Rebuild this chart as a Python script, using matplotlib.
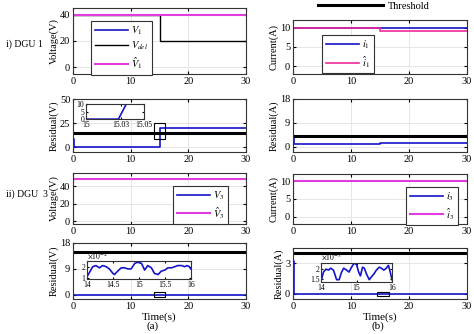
import matplotlib
matplotlib.use("Agg")
import matplotlib.pyplot as plt
from matplotlib.patches import Rectangle

plt.rcParams['font.family'] = ['Liberation Serif', 'DejaVu Serif']
plt.rcParams['mathtext.fontset'] = 'stix'
plt.rcParams['font.size'] = 7

BLUE = '#1414c8'
MAG = '#e03ce0'
PINK = '#ec2a98'

# ---------------- data ----------------
# DGU1 voltage
t_v1 = [0, 0, 30]
v1 = [0, 40, 40]
t_vdel = [0, 15, 15, 30]
vdel = [40, 40, 20, 20]
t_v1hat = [0, 0, 30]
v1hat = [0, 40, 40]
# DGU1 current
t_i1 = [0, 0, 30]
i1 = [0, 10, 10]
t_i1hat = [0, 0, 15, 15, 30]
i1hat = [0, 10, 10, 9.2, 9.2]
# DGU1 residuals
t_r1v = [0, 0, 0.12, 0.12, 15.03, 15.03, 30]
r1v = [0, 8, 8, 0, 0, 20, 20]
thr_v = 15
t_r1i = [0, 0, 0.15, 0.15, 15, 15, 30]
r1i = [0, 3.4, 3.4, 1.0, 1.0, 1.5, 1.5]
thr_i = 4
# inset DGU1 voltage residual
t_ins1 = [15.0, 15.028, 15.036]
r_ins1 = [0, 0, 12]
# DGU3 voltage / current
t_v3 = [0, 0, 30]
v3 = [0, 48, 48]
v3hat = [0, 48, 48]
t_i3 = [0, 0, 30]
i3 = [0, 10, 10]
i3hat = [0, 10, 10]
# DGU3 residuals
t_r3v = [0, 30]
r3v = [0.0002, 0.0002]
t_r3i = [0, 0, 0.1, 0.1, 30]
r3i = [0, 3.2, 3.2, 0.002, 0.002]
# insets DGU3 (zoomed residual noise, in units of 1e-4 V and 1e-3 A)
t_ins3v = [14.0, 14.11, 14.17, 14.24, 14.30, 14.37, 14.43, 14.50, 14.53, 14.59, 14.66,
           14.72, 14.79, 14.85, 14.92, 14.98, 15.05, 15.11, 15.17, 15.24, 15.30, 15.37,
           15.43, 15.50, 15.56, 15.63, 15.69, 15.75, 15.82, 15.88, 15.93, 15.97, 16.0]
r_ins3v = [1.1, 2.0, 2.1, 1.9, 2.1, 2.0, 1.8, 1.4, 1.3, 1.6, 1.9,
           1.9, 1.8, 1.8, 2.3, 2.4, 2.3, 1.7, 2.1, 1.9, 1.4, 1.3,
           1.6, 1.7, 1.9, 1.9, 2.0, 2.1, 2.1, 2.0, 2.1, 2.0, 1.8]
t_ins3i = [14.02, 14.07, 14.14, 14.21, 14.27, 14.35, 14.44, 14.51, 14.58, 14.64, 14.72,
           14.79, 14.86, 14.93, 15.0, 15.06, 15.11, 15.17, 15.22, 15.28, 15.36, 15.42,
           15.49, 15.56, 15.64, 15.70, 15.77, 15.84, 15.90, 15.95, 16.0]
r_ins3i = [1.5, 1.85, 2.0, 1.95, 2.05, 1.95, 1.45, 1.45, 1.85, 2.05, 1.95,
           1.85, 2.1, 2.3, 2.25, 1.85, 1.65, 2.1, 2.05, 1.75, 1.45, 1.6,
           1.75, 1.95, 2.1, 2.05, 1.95, 2.05, 2.2, 1.85, 1.45]

xticks = [0, 10, 20, 30]

fig = plt.figure(figsize=(4.74, 3.34), dpi=100)
W, H = 474.0, 334.0


def mk(x0, top, x1, bot):
    return fig.add_axes([x0 / W, 1 - bot / H, (x1 - x0) / W, (bot - top) / H])


def style(ax, ylim, yticks, ylabel):
    ax.set_xlim(0, 30)
    ax.set_ylim(*ylim)
    ax.set_xticks(xticks)
    ax.set_yticks(yticks)
    ax.grid(True, color='#e2e2e2', lw=0.6)
    ax.set_axisbelow(True)
    ax.tick_params(direction='in', length=2, top=True, right=True, labelsize=7.5, pad=2)
    for s in ax.spines.values():
        s.set_linewidth(0.8)
        s.set_color('#333333')
    ax.set_ylabel(ylabel, fontsize=7.5, labelpad=1)


def inset_style(ax):
    ax.tick_params(direction='in', length=1.5, labelsize=5.5, pad=1.2, top=True, right=True)
    for s in ax.spines.values():
        s.set_linewidth(0.8)
        s.set_color('#333333')


def leg(ax, anchor):
    lg = ax.legend(loc='upper left', bbox_to_anchor=anchor, fontsize=7.5, fancybox=False,
                   edgecolor='#333333', framealpha=1, handlelength=3.2, borderpad=0.35,
                   labelspacing=0.25, handletextpad=0.3, borderaxespad=0)
    lg.get_frame().set_linewidth(0.8)
    return lg


LX0, LX1 = 73, 246
RX0, RX1 = 293, 467

# Row 1
a1 = mk(LX0, 8, LX1, 74)
a1.plot(t_v1, v1, color=BLUE, lw=1.2, label='$V_1$')
a1.plot(t_vdel, vdel, color='black', lw=1.0, label='$V_{del}$')
a1.plot(t_v1hat, v1hat, color=MAG, lw=1.5, label=r'$\hat{V}_1$')
style(a1, (-5, 45), [0, 20, 40], 'Voltage(V)')
leg(a1, (0.104, 0.80))

b1 = mk(RX0, 20, RX1, 74)
b1.plot(t_i1, i1, color=BLUE, lw=1.2, label='$i_1$')
b1.plot(t_i1hat, i1hat, color=PINK, lw=1.2, label=r'$\hat{i}_1$')
style(b1, (-2, 12), [0, 5, 10], 'Current(A)')
leg(b1, (0.167, 0.72))

# Row 2
a2 = mk(LX0, 99, LX1, 152)
a2.plot(t_r1v, r1v, color=BLUE, lw=1.2)
thr_line = a2.axhline(thr_v, color='black', lw=2.2, label='Threshold')
style(a2, (-5, 50), [0, 25, 50], 'Residual(V)')
a2.add_patch(Rectangle((14, 8), 2, 17, fill=False, ec='black', lw=0.8, zorder=5))
ia2 = a2.inset_axes([0.075, 0.62, 0.335, 0.28])
ia2.plot(t_ins1, r_ins1, color=BLUE, lw=1.2)
ia2.set_xlim(15, 15.05)
ia2.set_ylim(0, 10)
ia2.set_xticks([15, 15.03, 15.05])
ia2.set_xticklabels(['15', '15.03', '15.05'])
ia2.set_yticks([0, 5, 10])
inset_style(ia2)

b2 = mk(RX0, 99, RX1, 152)
b2.plot(t_r1i, r1i, color=BLUE, lw=1.2)
b2.axhline(thr_i, color='black', lw=2.2)
style(b2, (-2, 18), [0, 9, 18], 'Residual(A)')

# Row 3
a3 = mk(LX0, 173, LX1, 224)
a3.plot(t_v3, v3, color=BLUE, lw=1.2, label='$V_3$')
a3.plot(t_v3, v3hat, color=MAG, lw=1.5, label=r'$\hat{V}_3$')
style(a3, (-3, 55), [0, 20, 40], 'Voltage(V)')
leg(a3, (0.578, 0.745))

b3 = mk(RX0, 174, RX1, 224)
b3.plot(t_i3, i3, color=BLUE, lw=1.2, label='$i_3$')
b3.plot(t_i3, i3hat, color=MAG, lw=1.5, label=r'$\hat{i}_3$')
style(b3, (-2, 12), [0, 5, 10], 'Current(A)')
leg(b3, (0.649, 0.74))

# Row 4
a4 = mk(LX0, 243, LX1, 299)
a4.plot(t_r3v, r3v, color=BLUE, lw=1.2)
a4.axhline(thr_v, color='black', lw=2.2)
style(a4, (-1.5, 18), [0, 9, 18], 'Residual(V)')
a4.add_patch(Rectangle((14, -0.7), 2, 1.7, fill=False, ec='black', lw=0.8, zorder=5))
a4.set_xlabel('Time(s)', fontsize=8, labelpad=1)
ia4 = a4.inset_axes([0.081, 0.357, 0.60, 0.32])
ia4.plot(t_ins3v, r_ins3v, color=BLUE, lw=1.2)
ia4.set_xlim(14, 16)
ia4.set_ylim(0.9, 2.5)
ia4.set_xticks([14, 14.5, 15, 15.5, 16])
ia4.set_xticklabels(['14', '14.5', '15', '15.5', '16'])
ia4.set_yticks([1, 2])
ia4.set_yticklabels(['1', '2'])
ia4.text(0.0, 1.03, r'$\times10^{-4}$', transform=ia4.transAxes, fontsize=5.5,
         ha='left', va='bottom')
inset_style(ia4)

b4 = mk(RX0, 248, RX1, 299)
b4.plot(t_r3i, r3i, color=BLUE, lw=1.2)
b4.axhline(thr_i, color='black', lw=2.2)
style(b4, (-0.5, 4.5), [0, 3], 'Residual(A)')
b4.add_patch(Rectangle((14.5, -0.25), 2, 0.4, fill=False, ec='black', lw=0.8, zorder=5))
b4.set_xlabel('Time(s)', fontsize=8, labelpad=1)
ib4 = b4.inset_axes([0.161, 0.333, 0.408, 0.373])
ib4.plot(t_ins3i, r_ins3i, color=BLUE, lw=1.2)
ib4.set_xlim(14, 16)
ib4.set_ylim(1.33, 2.32)
ib4.set_xticks([14, 15, 16])
ib4.set_xticklabels(['14', '15', '16'])
ib4.set_yticks([1.5, 2])
ib4.set_yticklabels(['1.5', '2'])
ib4.text(0.0, 1.03, r'$\times10^{-3}$', transform=ib4.transAxes, fontsize=5.5,
         ha='left', va='bottom')
inset_style(ib4)

# Threshold legend at top
fig.legend(handles=[thr_line], labels=['Threshold'], loc='center left',
           bbox_to_anchor=(318 / W, 1 - 6 / H), frameon=False, fontsize=7.5,
           handlelength=6.2, handletextpad=0.5, borderaxespad=0, borderpad=0)

# Row labels and panel labels
fig.text(6 / W, 1 - 44 / H, 'i) DGU 1', fontsize=7, va='center', ha='left')
fig.text(6 / W, 1 - 194 / H, 'ii) DGU  3', fontsize=7, va='center', ha='left')
fig.text(153 / W, 1 - 326 / H, '(a)', fontsize=8, va='center', ha='center')
fig.text(378 / W, 1 - 326 / H, '(b)', fontsize=8, va='center', ha='center')

fig.savefig('out.png', dpi=100)
